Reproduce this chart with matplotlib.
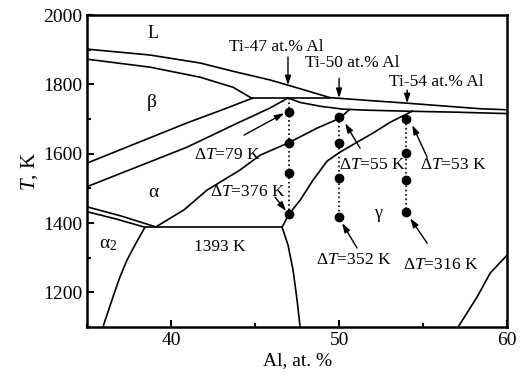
import matplotlib
matplotlib.use("Agg")
import matplotlib.pyplot as plt
from matplotlib.ticker import MultipleLocator

plt.rcParams['font.family'] = ['Liberation Serif', 'DejaVu Serif']
plt.rcParams['mathtext.fontset'] = 'custom'
plt.rcParams['mathtext.rm'] = 'Liberation Serif'
plt.rcParams['mathtext.it'] = 'Liberation Serif:italic'

# phase boundaries (Al at.%, T in K)
liq_x = [35, 38.75, 41.73, 43.7, 45.89, 46.96, 48.15, 49.46, 52.0, 54.05, 58.39, 60]
liq_T = [1902, 1885, 1862, 1838, 1813, 1798, 1781, 1762, 1753, 1746, 1730, 1727]

beta_sol_x = [35, 38.75, 41.73, 43.69, 44.82]
beta_sol_T = [1873, 1850, 1821, 1792, 1760]

perit_x = [44.82, 49.46]
perit_T = [1761, 1761]

beta_x = [35, 39.0, 41.0, 43.0, 44.82]
beta_T = [1573, 1651, 1690, 1726, 1760]

alpha_b_x = [35, 40.95, 43.93, 45.89, 46.96]
alpha_b_T = [1505, 1619, 1688, 1732, 1761]

alpha_l_x = [46.96, 47.7, 48.9, 50.2, 51.5, 54.0, 57.0, 60]
alpha_l_T = [1761, 1748, 1737, 1729, 1726, 1723, 1720, 1716]

a2_up_x = [35, 37.0, 39.1]
a2_up_T = [1447, 1421, 1389]
a2_lo_x = [35, 36.8, 38.45]
a2_lo_T = [1433, 1411, 1388]

eut_x = [38.45, 46.61]
eut_T = [1388, 1388]

a2_x = [38.45, 37.86, 37.38, 36.96, 36.55, 35.95]
a2_T = [1388, 1337, 1293, 1244, 1187, 1100]

ag_x = [39.1, 40.77, 42.14, 44.1, 45.3, 46.96, 48.69, 50.06, 50.6]
ag_T = [1389, 1438, 1495, 1553, 1596, 1631, 1674, 1703, 1727]

g_x = [46.61, 47.02, 47.68, 48.45, 49.29, 50.06, 52.02, 53.04, 54.35]
g_T = [1388, 1426, 1466, 1524, 1579, 1605, 1660, 1691, 1723]

g2_x = [46.61, 46.96, 47.26, 47.5, 47.68]
g2_T = [1388, 1337, 1265, 1178, 1100]

r_x = [57.08, 58.21, 58.99, 60]
r_T = [1100, 1187, 1256, 1308]

# measured points
dot_comp = [47, 50, 54]
dot_T = [[1720, 1631, 1544, 1426],
         [1706, 1631, 1530, 1417],
         [1700, 1602, 1524, 1432]]
dotline_top = [1761, 1706, 1700]

fig = plt.figure(figsize=(5.3, 3.79), dpi=100)
ax = fig.add_axes([0.164, 0.137, 0.793, 0.823])

lines = [(liq_x, liq_T), (beta_sol_x, beta_sol_T), (perit_x, perit_T),
         (beta_x, beta_T), (alpha_b_x, alpha_b_T), (alpha_l_x, alpha_l_T),
         (a2_up_x, a2_up_T), (a2_lo_x, a2_lo_T), (eut_x, eut_T),
         (a2_x, a2_T), (ag_x, ag_T), (g_x, g_T), (g2_x, g2_T), (r_x, r_T)]
for xs, ts in lines:
    ax.plot(xs, ts, color='k', lw=1.2)

for c, ts, top in zip(dot_comp, dot_T, dotline_top):
    ax.plot([c, c], [top, min(ts)], color='k', lw=1.2, ls=':')
    ax.plot([c] * len(ts), ts, 'o', color='k', ms=6)

arrow = dict(arrowstyle='-|>,head_width=0.18,head_length=0.55', color='k', lw=1.0,
             shrinkA=0, shrinkB=0)

# alloy labels
alloys = ['Ti-47 at.% Al', 'Ti-50 at.% Al', 'Ti-54 at.% Al']
alloy_txt = [(46.25, 1908), (50.77, 1862), (55.77, 1807)]
alloy_tail = [(46.96, 1879), (50.0, 1818), (54.05, 1784)]
alloy_tip = [(46.96, 1798), (50.0, 1761), (54.05, 1746)]
for s, p, a, b in zip(alloys, alloy_txt, alloy_tail, alloy_tip):
    ax.text(p[0], p[1], s, fontsize=12.5, ha='center', va='center')
    ax.annotate('', xy=b, xytext=a, arrowprops=arrow)

# undercooling labels
dT = [79, 376, 55, 53, 352, 316]
dT_txt = [(43.33, 1596), (44.58, 1489), (51.96, 1567), (56.79, 1567), (50.89, 1293), (56.07, 1279)]
dT_tail = [(44.35, 1654), (46.19, 1475), (51.25, 1616), (55.24, 1590), (51.07, 1328), (55.24, 1342)]
dT_tip = [(46.73, 1717), (46.85, 1435), (50.36, 1688), (54.35, 1683), (50.18, 1400), (54.23, 1414)]
for v, p, a, b in zip(dT, dT_txt, dT_tail, dT_tip):
    ax.text(p[0], p[1], r'Δ$\it{T}$=%d K' % v, fontsize=12.5, ha='center', va='center')
    ax.annotate('', xy=b, xytext=a, arrowprops=arrow)

# phase labels
ax.text(38.93, 1948, 'L', fontsize=13, ha='center', va='center')
ax.text(38.87, 1749, 'β', fontsize=14, ha='center', va='center')
ax.text(38.93, 1487, 'α', fontsize=14, ha='center', va='center')
ax.text(36.25, 1337, r'α$_2$', fontsize=14, ha='center', va='center')
ax.text(52.3, 1429, 'γ', fontsize=13, ha='center', va='center')
ax.text(42.92, 1331, '1393 K', fontsize=12.5, ha='center', va='center')

ax.set_xlim(35, 60)
ax.set_ylim(1100, 2000)
ax.xaxis.set_major_locator(MultipleLocator(10))
ax.xaxis.set_minor_locator(MultipleLocator(5))
ax.yaxis.set_major_locator(MultipleLocator(200))
ax.yaxis.set_minor_locator(MultipleLocator(100))
ax.tick_params(which='both', direction='in', labelsize=14, width=1.5)
ax.tick_params(which='major', length=5)
ax.tick_params(which='minor', length=3)
for sp in ax.spines.values():
    sp.set_linewidth(1.8)

ax.set_xlabel('Al, at. %', fontsize=14, labelpad=2)
ax.set_ylabel(r'$\it{T}$, K', fontsize=15, labelpad=2)

fig.savefig('out.png', dpi=100)
